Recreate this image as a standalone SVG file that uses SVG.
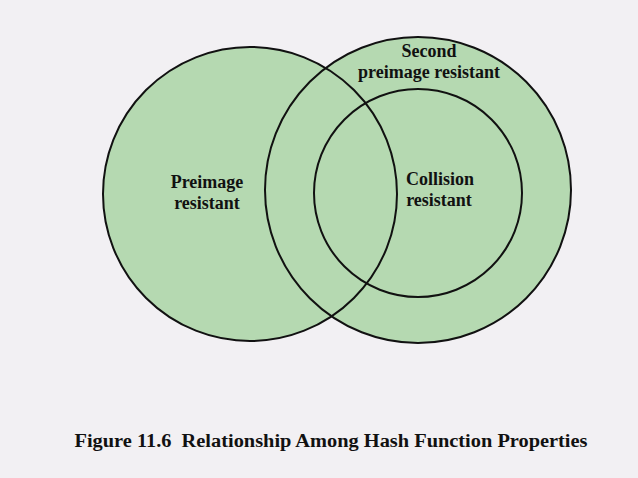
<svg xmlns="http://www.w3.org/2000/svg" width="638" height="478" viewBox="0 0 638 478">
<style>
.f{fill:#b5d9b1;stroke:none}
.s{fill:none;stroke:#111;stroke-width:2}
text{font-family:"Liberation Serif",serif;font-weight:bold;font-size:18px;fill:#111;text-anchor:middle}
</style>
<rect width="638" height="478" fill="#f2f0f3"/>
<g id="fills">
<circle class="f" cx="250" cy="194" r="147"/>
<circle class="f" cx="418" cy="190" r="153"/>
</g>
<g id="preimage"><circle class="s" cx="250" cy="194" r="147"/><text x="207" y="188">Preimage</text><text x="207" y="209">resistant</text></g>
<g id="second"><circle class="s" cx="418" cy="190" r="153"/><text x="429" y="57">Second</text><text x="429" y="78">preimage resistant</text></g>
<g id="collision"><circle class="s" cx="418" cy="193" r="104"/><text x="440" y="185">Collision</text><text x="439" y="206">resistant</text></g>
<g id="connectors"/>
<text x="331" y="447" font-size="22" xml:space="preserve" textLength="513" lengthAdjust="spacingAndGlyphs">Figure 11.6  Relationship Among Hash Function Properties</text>
</svg>
